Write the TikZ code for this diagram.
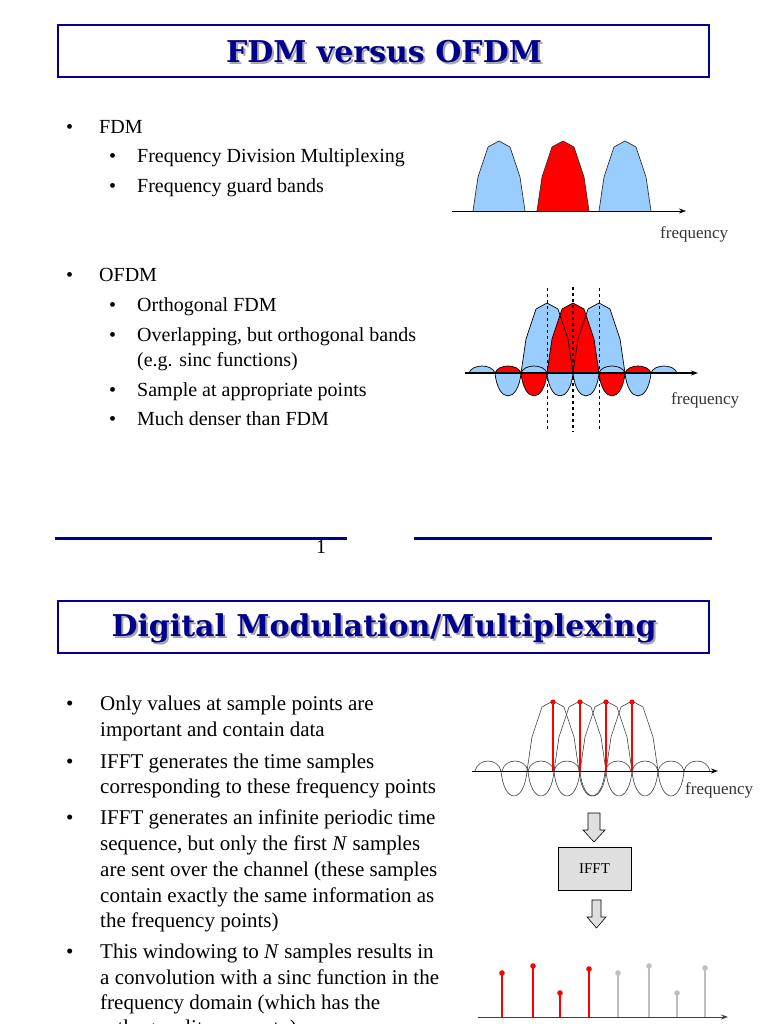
\documentclass[tikz,border=0pt]{standalone}
\usepackage{fontspec}
\usetikzlibrary{arrows.meta}
\setmainfont{Liberation Serif}
\newfontfamily\titlefont{DejaVu Serif}
\definecolor{navy}{RGB}{0,0,140}
\definecolor{lblue}{RGB}{153,204,255}
\definecolor{sred}{RGB}{255,0,0}
\begin{document}
\begin{tikzpicture}[x=1pt,y=-1pt,
  txt/.style={anchor=base west,inner sep=0pt,font=\fontsize{20}{23}\selectfont},
  txtb/.style={anchor=base west,inner sep=0pt,font=\fontsize{21}{24}\selectfont},
  sm/.style={anchor=base west,inner sep=0pt,font=\fontsize{17}{19}\selectfont,text=black!80},
  titlebox/.style={draw=navy,line width=2pt,minimum width=651pt,minimum height=52pt,inner sep=0pt},
  ttl/.style={inner sep=0pt,font=\titlefont\bfseries\fontsize{30}{34}\selectfont},
  axis/.style={-{Stealth[length=7pt,width=5pt]},line width=0.8pt},
  lobeline/.style={line width=0.7pt,line join=round}]
\useasboundingbox (0,0) rectangle (768,1024);
\fill[white] (0,0) rectangle (768,1024);
\newcommand\mainlobe[3]{\path[#3] ({#1-26},#2) -- ({#1-21},{#2-34}) -- ({#1-11},{#2-64}) -- (#1,{#2-70}) -- ({#1+11},{#2-64}) -- ({#1+21},{#2-34}) -- ({#1+26},#2);}
\newcommand\sidelobe[4]{\path[#4] (#1,#2) .. controls ({#1+3},{#2+1.33*#3}) and ({#1+23},{#2+1.33*#3}) .. ({#1+26},#2);}
\newcommand\fulllobe[5]{%
  \mainlobe{#1}{#2}{#5}%
  \sidelobe{#1-52}{#2}{#3}{#5}\sidelobe{#1+26}{#2}{#3}{#5}%
  \sidelobe{#1-78}{#2}{-#4}{#5}\sidelobe{#1+52}{#2}{-#4}{#5}}
% ---------- slide 1
\node[titlebox] (t1) at (383.5,51) {};
\node[ttl,text=gray!70] at (386,54) {FDM versus OFDM};
\node[ttl,text=navy] (t1txt) at (384,52) {FDM versus OFDM};
\node[txt] (b1) at (66,134) {•};
\node[txt] (b1t) at (99,134) {FDM};
\node[txt] (b11) at (109,163) {•};
\node[txt] (b11t) at (137,163) {Frequency Division Multiplexing};
\node[txt] (b12) at (109,193) {•};
\node[txt] (b12t) at (137,193) {Frequency guard bands};
\node[txt] (b2) at (66,281) {•};
\node[txt] (b2t) at (99,281) {OFDM};
\node[txt] (b21) at (109,311) {•};
\node[txt] (b21t) at (137,311) {Orthogonal FDM};
\node[txt] (b22) at (109,341) {•};
\node[txt] (b22t) at (137,341) {Overlapping, but orthogonal bands};
\node[txt] (b22u) at (137,366) {(e.g. sinc functions)};
\node[txt] (b23) at (109,396) {•};
\node[txt] (b23t) at (137,396) {Sample at appropriate points};
\node[txt] (b24) at (109,425) {•};
\node[txt] (b24t) at (137,425) {Much denser than FDM};
% FDM graph
\foreach \c/\col in {499/lblue,563/sred,625/lblue}{
  \mainlobe{\c}{211}{fill=\col,draw=black!80,lobeline}}
\coordinate (fa0) at (452,211); \coordinate (fa1) at (686,211);
\draw[axis,line width=0.6pt] (fa0) -- (fa1);
\node[sm] (f1) at (660,239) {frequency};
% OFDM graph
\fulllobe{547}{373}{23}{7}{fill=lblue}
\fulllobe{599}{373}{23}{7}{fill=lblue}
\fulllobe{573}{373}{23}{7}{fill=sred}
\fulllobe{547}{373}{23}{7}{draw=black,lobeline}
\fulllobe{599}{373}{23}{7}{draw=black,lobeline}
\fulllobe{573}{373}{23}{7}{draw=black,lobeline}
\coordinate (oa0) at (465,373); \coordinate (oa1) at (698,373);
\draw[axis,line width=1.2pt] (oa0) -- (oa1);
\coordinate (d1a) at (547,288); \coordinate (d1b) at (547,430);
\coordinate (d2a) at (573,287); \coordinate (d2b) at (573,432);
\coordinate (d3a) at (599,288); \coordinate (d3b) at (599,430);
\draw[dashed,line width=0.5pt] (d1a) -- (d1b);
\draw[dashed,line width=1.2pt] (d2a) -- (d2b);
\draw[dashed,line width=0.5pt] (d3a) -- (d3b);
\node[sm] (f2) at (671,404) {frequency};
% separator
\coordinate (s1) at (55,538); \coordinate (s2) at (347,538);
\coordinate (s3) at (414,538); \coordinate (s4) at (712,538);
\draw[navy,line width=3pt] (s1) -- (s2) (s3) -- (s4);
\node[txt] (pg) at (316,553) {1};
% ---------- slide 2
\node[titlebox] (t2) at (383.5,627) {};
\node[ttl,text=gray!70] at (386,630) {Digital Modulation/Multiplexing};
\node[ttl,text=navy] (t2txt) at (384,628) {Digital Modulation/Multiplexing};
\node[txtb] at (66,710) {•};
\node[txtb] at (100,710) {Only values at sample points are};
\node[txtb] at (100,736) {important and contain data};
\node[txtb] at (66,768) {•};
\node[txtb] at (100,768) {IFFT generates the time samples};
\node[txtb] at (100,793) {corresponding to these frequency points};
\node[txtb] at (66,824) {•};
\node[txtb] at (100,824) {IFFT generates an infinite periodic time};
\node[txtb] at (100,850) {sequence, but only the first \textit{N} samples};
\node[txtb] at (100,876) {are sent over the channel (these samples};
\node[txtb] at (100,902) {contain exactly the same information as};
\node[txtb] at (100,927) {the frequency points)};
\node[txtb] at (66,958) {•};
\node[txtb] at (100,958) {This windowing to \textit{N} samples results in};
\node[txtb] at (100,984) {a convolution with a sinc function in the};
\node[txtb] at (100,1009) {frequency domain (which has the};
\node[txtb] at (100,1034) {orthogonality property)};
% spectrum graph
\foreach \c in {553,580,606,632}{
  \fulllobe{\c}{771}{25}{10}{draw=black!75,line width=0.6pt,line join=round}}
\coordinate (ga0) at (472,771); \coordinate (ga1) at (718,771);
\draw[axis,line width=1pt] (ga0) -- (ga1);
\foreach \c in {553,580,606,632}{
  \draw[sred,line width=1.6pt] (\c,771) -- (\c,702);
  \fill[sred] (\c,702) circle (2.6pt);}
\node[sm] (f3) at (685,794) {frequency};
% arrows and IFFT
\draw[fill=gray!25,line width=0.6pt] (588,813) -- (600,813) -- (600,830) -- (605,830) -- (594,842) -- (583,830) -- (588,830) -- cycle;
\node[draw,fill=gray!25,line width=0.6pt,minimum width=73pt,minimum height=43pt,inner sep=0pt,font=\fontsize{15}{17}\selectfont] (ifft) at (594.5,868.5) {IFFT};
\draw[fill=gray!25,line width=0.6pt] (592,900) -- (601,900) -- (601,917) -- (606,917) -- (596.5,928) -- (587,917) -- (592,917) -- cycle;
% stems
\coordinate (sa0) at (478,1017); \coordinate (sa1) at (728,1017);
\draw[axis,line width=1pt,black!75] (sa0) -- (sa1);
\foreach \x/\y in {502/973,533/966,560/993,589/969}{
  \draw[sred,line width=1.8pt] (\x,1017) -- (\x,\y);
  \fill[sred] (\x,\y) circle (2.8pt);}
\foreach \x/\y in {618/973,649/966,677/993,705/968}{
  \draw[black!25,line width=1.8pt] (\x,1017) -- (\x,\y);
  \fill[black!25] (\x,\y) circle (2.8pt);}
\end{tikzpicture}
\end{document}
